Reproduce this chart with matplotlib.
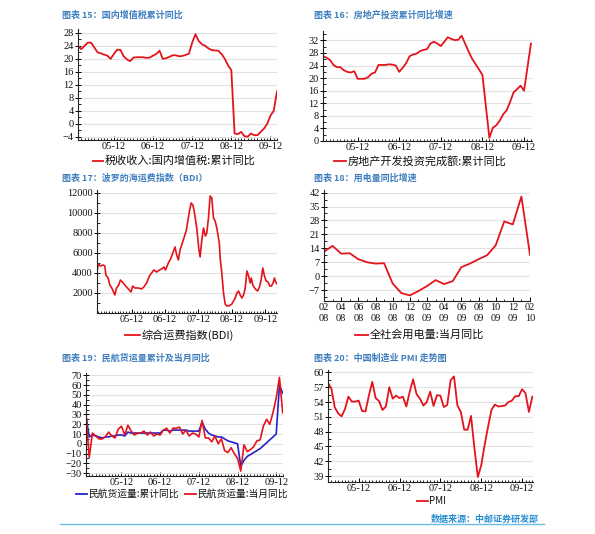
import matplotlib
matplotlib.use("Agg")
import matplotlib.pyplot as plt
from matplotlib.lines import Line2D
from matplotlib.ticker import MultipleLocator

# ---- data (month index: 0 = 2005-01) ----
year_ticks = [11, 23, 35, 47, 59]
year_labels = ["05-12", "06-12", "07-12", "08-12", "09-12"]

vat = [24, 23, 24, 25, 25, 23.5, 22, 21.7, 21.3, 21,
       20, 21.5, 22.8, 22.8, 20.8, 19.8, 19.3, 20.4, 20.5, 20.5,
       20.5, 20.3, 20.4, 21, 21.5, 22.5, 20, 20.2, 20.6, 21.1,
       21.1, 20.8, 20.9, 21.2, 21.6, 25, 27.6, 25.5, 24.5, 24,
       23.2, 22.7, 22.6, 22.5, 21.5, 20, 18, 16.5, -3, -3.2,
       -2.5, -3.8, -4, -3, -3.5, -3.5, -2.5, -1.5, 0, 2.5,
       4, 10]
vat_m = list(range(0, 62))

estate = [27, 26.5, 25.8, 24.2, 23.5, 23.5, 22.5, 22.0, 21.8, 22.2,
          19.8, 19.8, 19.8, 20.3, 21.4, 21.8, 24.2, 24.2, 24.2, 24.4,
          24.3, 24.0, 22.0, 23.3, 24.8, 27.0, 27.5, 27.8, 28.6, 29.0,
          29.2, 31.0, 31.6, 31.0, 30.2, 31.6, 33.0, 32.5, 32.1, 32.2,
          33.5, 31.0, 28.5, 26.2, 24.5, 22.8, 21.0,
          1.0, 4.2, 5.0, 6.5, 8.5, 9.8, 12.5, 15.5, 16.5, 17.6, 16.0,
          31.0]
estate_m = list(range(1, 48)) + list(range(49, 60)) + [61]

bdi_t = [-1.4, -0.9, -0.2, 0.8, 1.4, 1.8, 2.6, 3.2, 3.9, 4.4, 5.0, 5.6, 6.4, 7.0,
         8.0, 9.2, 10.2, 10.8, 11.4, 12.2, 13.4, 14.6, 15.4, 16.4, 17.4, 18.2,
         19.0, 20.0, 21.0, 21.8, 22.6, 23.2, 24.2, 25.0, 25.8, 26.6, 27.2, 27.8,
         28.4, 29.0, 29.8, 30.6, 31.2, 31.8, 32.4, 33.0, 33.6, 34.4, 35.1, 35.6,
         36.1, 36.8, 37.5, 38.0, 38.6, 39.2, 39.8, 40.4, 41.0, 41.6, 42.5, 42.8,
         43.4, 44.0, 44.6, 45.2, 46.2, 47.0, 48.2, 48.8, 49.4, 50.0, 50.6, 51.2,
         51.8, 52.4, 53.0, 53.6, 54.0, 54.5, 55.4, 56.3, 57.0, 57.5, 58.1, 58.7,
         59.3, 60.0, 60.6, 61.2, 61.8, 62.3, 62.7, 63.2]
bdi = [4200, 4900, 4700, 4800, 4700, 3800, 3500, 2800, 2500, 2200, 1800, 2500, 2800, 3300,
       3000, 2600, 2300, 2100, 2700, 2500, 2500, 2400, 2600, 3000, 3700, 4000,
       4300, 4100, 4300, 4400, 4600, 4300, 5000, 5400, 6000, 6600, 5800, 5300,
       6300, 6800, 7500, 8200, 9200, 10200, 11000, 10800, 10000, 8500, 6500, 5600,
       7000, 8500, 7700, 8000, 9500, 11700, 11500, 9500, 9200, 8500, 7000, 5500,
       4000, 2000, 900, 700, 750, 900, 1500, 2000, 2200, 1800, 1500, 1800,
       2500, 4200, 3700, 3000, 3500, 2800, 2400, 2200, 2700, 3300, 4500, 3700,
       3200, 3100, 2700, 2700, 3000, 3500, 3100, 2900]

# electricity: month index 0 = 2008-02
elec = [12.3, 15.2, 11.3, 11.5, 8.5, 7, 6.3, 6.5, -3.7, -8.5, -9.7, -7.5, -5,
        -2, -4, -2.5, 4.5, 6.3, 8.5, 10.5, 15.5, 27.5, 26, 40, 10.7]
elec_labels = ["02\n08", "04\n08", "06\n08", "08\n08", "10\n08", "12\n08", "02\n09",
               "04\n09", "06\n09", "08\n09", "10\n09", "12\n09", "02\n10"]

air_month = [30, -14, 11, 8, 5, 5, 7, 12, 8, 6,
             15, 18, 9, 19, 13, 9, 11, 11, 13, 9,
             12, 8, 10, 9, 14, 16, 11, 16, 16, 17,
             10, 14, 8, 11, 10, 7, 24, 6, 6, 2,
             8, 0, 5, -7, -9, -4, -10, -15, -28, -1,
             -8, -6, -3, 3, 4, 18, 25, 20, 32, 47,
             68, 32]
air_cum = [28, 7, 9, 8, 7, 6, 7, 7, 8, 8,
           9, 9, 8, 12, 11, 11, 11, 11, 11, 11,
           11, 11, 11, 11, 14, 14, 13, 14, 14, 14,
           14, 14, 13, 13, 13, 13, 22, 15, 11, 9,
           8, 7, 7, 5, 3, 2, 1, 0, -23, -17,
           -13, -11, -9, -7, -5, -2, 1, 4, 7, 10,
           60, 52]

pmi = [57.9, 56.7, 52.9, 51.7, 51.1, 52.6, 55.1, 54.1, 54.1, 54.3,
       52.2, 52.1, 55.3, 58.1, 54.8, 54.2, 52.4, 53.1, 57.0, 54.7, 55.3, 54.8,
       55.1, 53.1, 56.1, 58.6, 55.6, 54.7, 53.3, 54.0, 56.1, 53.2, 55.4, 55.3,
       53.0, 53.4, 58.4, 59.2, 53.3, 52.0, 48.4, 48.4, 51.2, 44.6, 38.8, 41.2,
       45.3, 49.0, 52.4, 53.5, 53.1, 53.2, 53.3, 54.0, 54.3, 55.2, 55.2, 56.6,
       55.8, 52.0, 55.1]
pmi_m = list(range(2, 63))

RED = "#e3141c"
BLUE = "#2222c8"
TITLE_C = "#3d7ebf"
CJK = ["Noto Sans CJK SC", "DejaVu Sans"]
NUM = "Liberation Serif"

W, H = 595, 534
fig = plt.figure(figsize=(W / 100, H / 100), dpi=100)
fig.patch.set_facecolor("white")


def box(l, t, r, b):
    return [l / W, 1 - b / H, (r - l) / W, (b - t) / H]


def fx(x):
    return x / W


def fy(y):
    return 1 - y / H


def style(ax, yticks, ylim, xlim):
    ax.set_ylim(*ylim)
    ax.set_xlim(*xlim)
    ax.set_yticks(yticks)
    for s in ["top", "right"]:
        ax.spines[s].set_visible(False)
    for s in ["left", "bottom"]:
        ax.spines[s].set_color("#222222")
        ax.spines[s].set_linewidth(0.8)
    ax.grid(axis="y", color="#e2e2e2", lw=0.8)
    ax.set_axisbelow(True)
    ax.tick_params(axis="y", which="major", direction="inout", length=4, width=0.7, pad=1)
    ax.tick_params(axis="y", which="minor", direction="in", length=2, width=0.6)
    ax.tick_params(axis="x", which="major", direction="in", length=3, width=0.7, pad=1.5)
    ax.tick_params(axis="x", which="minor", direction="in", length=1.5, width=0.6)
    for lab in ax.get_yticklabels() + ax.get_xticklabels():
        lab.set_fontfamily(NUM)
        lab.set_fontsize(7.5)
        lab.set_color("#111111")


def years(ax):
    ax.set_xticks(year_ticks)
    ax.set_xticklabels(year_labels)
    ax.xaxis.set_minor_locator(MultipleLocator(1))


def title(x, y, s):
    fig.text(fx(x), fy(y), s, fontsize=6.5, color=TITLE_C, family=CJK,
             fontweight="bold", va="center", ha="left")


def legend_item(x0, x1, y, color, s, size=8):
    fig.add_artist(Line2D([fx(x0), fx(x1)], [fy(y), fy(y)], color=color, lw=1.3))
    fig.text(fx(x1 + 1.5), fy(y), s, fontsize=size, family=CJK, color="#111111",
             va="center", ha="left")


# panel 15
ax1 = fig.add_axes(box(78, 29, 277, 140))
ax1.plot(vat_m, vat, color=RED, lw=1.3)
years(ax1)
style(ax1, range(-4, 29, 4), (-5, 29.2), (0, 61))
ax1.yaxis.set_minor_locator(MultipleLocator(2))
title(62, 15, "图表 15：国内增值税累计同比")
legend_item(93, 103, 161, RED, "税收收入:国内增值税:累计同比")

# panel 16
ax2 = fig.add_axes(box(323, 31, 532, 141))
ax2.plot(estate_m, estate, color=RED, lw=1.3)
years(ax2)
style(ax2, range(0, 33, 4), (0, 35), (1, 61.3))
ax2.yaxis.set_minor_locator(MultipleLocator(2))
title(314, 15, "图表 16：房地产投资累计同比增速")
legend_item(334, 346, 161, RED, "房地产开发投资完成额:累计同比")

# panel 17
ax3 = fig.add_axes(box(97, 190, 277, 313))
ax3.plot(bdi_t, bdi, color=RED, lw=1.2)
years(ax3)
style(ax3, range(2000, 12001, 2000), (0, 12300), (-1.4, 63.2))
ax3.yaxis.set_minor_locator(MultipleLocator(1000))
title(62, 178, "图表 17：波罗的海运费指数（BDI）")
legend_item(125, 140, 335, RED, "综合运费指数(BDI)")

# panel 18
ax4 = fig.add_axes(box(324, 190, 530, 301))
ax4.plot(range(len(elec)), elec, color=RED, lw=1.3)
ax4.set_xticks(range(0, 25, 2))
ax4.set_xticklabels(elec_labels, linespacing=1.3)
ax4.xaxis.set_minor_locator(MultipleLocator(1))
style(ax4, range(-7, 43, 7), (-12.5, 43.3), (0, 24))
ax4.yaxis.set_minor_locator(MultipleLocator(3.5))
title(314, 178, "图表 18：用电量同比增速")
legend_item(355, 368, 335, RED, "全社会用电量:当月同比")

# panel 19
ax5 = fig.add_axes(box(86, 373, 283, 476))
ax5.plot(range(len(air_cum)), air_cum, color=BLUE, lw=1.2)
ax5.plot(range(len(air_month)), air_month, color=RED, lw=1.2)
years(ax5)
style(ax5, range(-30, 71, 10), (-33, 72.5), (0, 61.1))
ax5.yaxis.set_minor_locator(MultipleLocator(5))
title(62, 358, "图表 19：民航货运量累计及当月同比")
legend_item(76, 87, 494, BLUE, "民航货运量:累计同比", size=7)
legend_item(185, 196, 494, RED, "民航货运量:当月同比", size=7)

# panel 20
ax6 = fig.add_axes(box(328, 370, 533, 482))
ax6.plot(pmi_m, pmi, color=RED, lw=1.3)
years(ax6)
style(ax6, range(39, 61, 3), (37.8, 60.5), (2, 62.2))
ax6.yaxis.set_minor_locator(MultipleLocator(1.5))
title(314, 358, "图表 20：中国制造业 PMI 走势图")
legend_item(417, 428, 501, RED, "PMI", size=7)

# source line
fig.add_artist(Line2D([fx(60), fx(544)], [fy(524), fy(524)], color="#6cbde6", lw=1))
fig.text(fx(539), fy(519), "数据来源：中邮证券研发部", fontsize=6.5, color="#2a8fd0",
         family=CJK, ha="right", va="center", fontweight="bold")

fig.savefig("out.png", dpi=100, facecolor="white")
